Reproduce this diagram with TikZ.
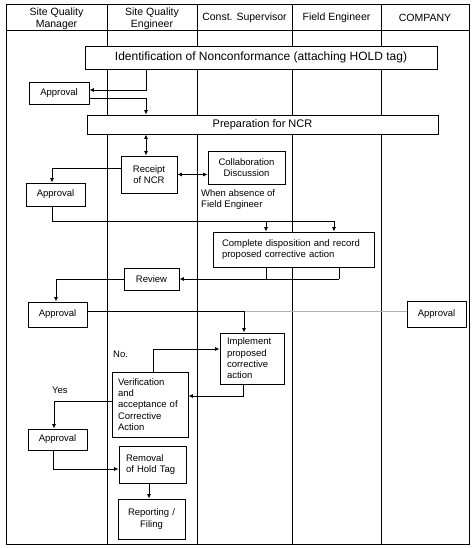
\documentclass[tikz,border=0pt]{standalone}
\usepackage{fontspec}
\setmainfont{Liberation Sans}
\usetikzlibrary{arrows.meta}
\begin{document}
\begin{tikzpicture}[x=1pt,y=-1pt,
  box/.style={draw, fill=white, line width=0.9pt, inner sep=2pt, font=\fontsize{9.5}{11.3}\selectfont, align=center},
  lbox/.style={box, align=left, inner xsep=7pt},
  big/.style={box, font=\fontsize{12}{14}\selectfont},
  hd/.style={font=\fontsize{10.5}{11.8}\selectfont, align=center},
  conn/.style={line width=0.8pt},
  arr/.style={conn, -{Latex[length=4.5pt,width=4pt]}},
  darr/.style={conn, {Latex[length=4.5pt,width=4pt]}-{Latex[length=4.5pt,width=4pt]}},
  lbl/.style={font=\fontsize{9.5}{11.3}\selectfont, align=left, inner sep=0pt}
]
\useasboundingbox[fill=white] (0,0) rectangle (474,548);
% frame and swimlanes
\draw[line width=1pt] (6,5) rectangle (469,544);
\draw[line width=0.9pt] (6,30) -- (469,30);
\foreach \x in {107,197,292,381} \draw[line width=0.9pt] (\x,5) -- (\x,544);
\node[hd] (h1) at (56.5,18.5) {Site Quality\\Manager};
\node[hd] (h2) at (152,18.5) {Site Quality\\Engineer};
\node[hd] (h3) at (244.5,18) {Const. Supervisor};
\node[hd] (h4) at (336.5,18) {Field Engineer};
\node[hd] (h5) at (425,18) {COMPANY};
% boxes
\node[big, minimum width=352pt, minimum height=23pt] (ident) at (261,57.5) {Identification of Nonconformance (attaching HOLD tag)};
\node[box, minimum width=60pt, minimum height=22pt] (appr1) at (59,93) {Approval};
\node[big, font=\fontsize{11}{13}\selectfont, minimum width=351pt, minimum height=19pt] (prep) at (262.5,124.5) {Preparation for NCR};
\node[box, minimum width=56pt, minimum height=37pt] (receipt) at (149,174.5) {Receipt\\of NCR};
\node[box, minimum width=77pt, minimum height=33pt] (collab) at (246.5,167.5) {Collaboration\\Discussion};
\node[box, minimum width=59pt, minimum height=23pt] (appr2) at (55.5,194.5) {Approval};
\node[lbox, inner xsep=9pt, text width=143pt, minimum height=35pt] (complete) at (293.5,249.5) {Complete disposition and record\\proposed corrective action};
\node[box, minimum width=55pt, minimum height=22pt] (review) at (151.5,279) {Review};
\node[box, minimum width=59pt, minimum height=25pt] (appr3) at (57.5,314.5) {Approval};
\node[box, minimum width=59pt, minimum height=26pt] (compappr) at (436.5,314) {Approval};
\node[lbox, text width=50pt, minimum height=51pt] (implement) at (252,358.5) {Implement\\proposed\\corrective\\action};
\node[lbox, inner xsep=6pt, text width=64pt, minimum height=65pt] (verif) at (150,404.5) {Verification\\and\\acceptance of\\Corrective\\Action};
\node[box, minimum width=59pt, minimum height=21pt] (appr4) at (57.5,439.5) {Approval};
\node[lbox, text width=53pt, minimum height=37pt] (removal) at (152.5,464.5) {Removal\\of Hold Tag};
\node[box, text width=53pt, inner xsep=7pt, minimum height=40pt] (reporting) at (151.5,519) {Reporting /\\Filing};
% labels
\node[lbl, anchor=west] (no) at (113,354) {No.};
\node[lbl, anchor=west] (yes) at (52,390) {Yes};
\node[lbl, anchor=north west] (absent) at (201,189) {When absence of\\Field Engineer};
% helper coordinates
\coordinate (xa) at (146,0);
\coordinate (xb) at (52,0);
\coordinate (j1) at (334,221);
\coordinate (j2) at (266,221);
\coordinate (xd) at (339,0);
\coordinate (xe) at (56,0);
\coordinate (xf) at (244,0);
\coordinate (xg) at (153,0);
\coordinate (xh) at (243,0);
\coordinate (xi) at (54,0);
\coordinate (xj) at (53,0);
\coordinate (xk) at (149,0);
% connectors
\draw[arr] (ident.south -| xa) |- ([yshift=3pt]appr1.east);
\draw[arr] ([yshift=-5pt]appr1.east) -| (prep.north -| xa);
\draw[darr] (prep.south -| xa) -- (receipt.north -| xa);
\draw[darr] (receipt.east) -- (receipt.east -| collab.west);
\draw[arr] ([yshift=6.5pt]receipt.west) -| (appr2.north -| xb);
\draw[conn] (appr2.south -| xb) |- (j1);
\draw[arr] (j1) -- (complete.north -| j1);
\draw[arr] (j2) -- (complete.north -| j2);
\draw[conn] (complete.south -| j2) |- (review.east -| xd);
\draw[conn] (complete.south -| xd) -- (review.east -| xd);
\draw[arr] (review.east -| j2) -- (review.east);
\draw[arr] (review.west) -| (appr3.north -| xe);
\draw[gray!60, line width=0.5pt] ([yshift=3.5pt]appr3.east -| xf) -- ([yshift=3.5pt]appr3.east -| compappr.west);
\draw[arr] ([yshift=3.5pt]appr3.east) -| (implement.north -| xf);
\draw[arr] (verif.north -| xg) |- ([yshift=9.5pt]implement.west);
\draw[arr] (implement.south -| xh) |- ([yshift=8.5pt]verif.east);
\draw[arr] ([yshift=3.5pt]verif.west) -| (appr4.north -| xi);
\draw[arr] (appr4.south -| xj) |- ([yshift=-4.5pt]removal.west);
\draw[arr] (removal.south -| xk) -- (reporting.north -| xk);
\end{tikzpicture}
\end{document}
